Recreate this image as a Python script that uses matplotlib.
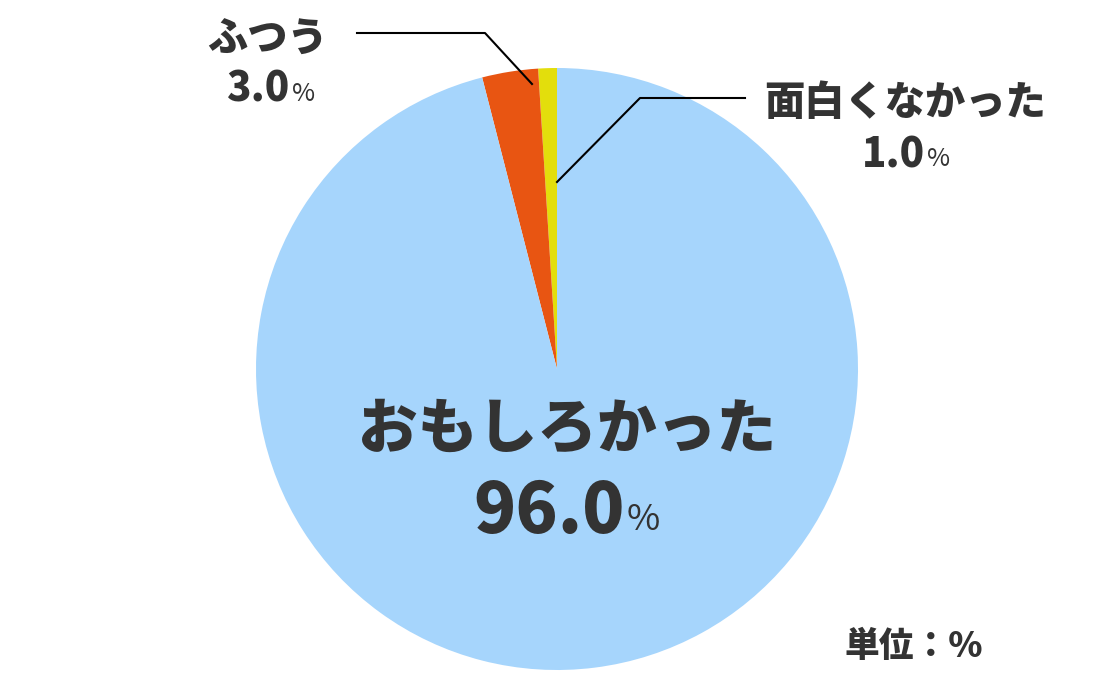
import matplotlib
matplotlib.use("Agg")
import matplotlib.pyplot as plt

plt.rcParams['font.family'] = ['Noto Sans CJK JP', 'DejaVu Sans']

labels = ["面白くなかった", "ふつう", "おもしろかった"]
values = [1.0, 3.0, 96.0]
colors = ["#E3DE0C", "#E85512", "#A6D5FC"]

W, H = 1116, 687
fig = plt.figure(figsize=(W/100, H/100), dpi=100)
ax = fig.add_axes([0, 0, 1, 1])

cx, cy, r = 557, 369, 301
ax.pie(values, colors=colors, startangle=-90, counterclock=False,
       center=(cx, cy), radius=r, frame=True, wedgeprops=dict(linewidth=0))
ax.set_xlim(0, W); ax.set_ylim(H, 0)
ax.set_aspect('equal')
ax.axis('off')

tc = "#333333"
def pct(x, y, num, size, psize):
    ax.text(x, y, num, ha='right', va='center', fontsize=size, fontweight='heavy', color=tc)
    ax.text(x + 2, y + size*0.15, "%", ha='left', va='center', fontsize=psize, color=tc)

ax.text(567, 430, labels[2], ha='center', va='center', fontsize=43, fontweight='heavy', color=tc)
pct(625, 512, f"{values[2]:.1f}", 50, 26)

ax.text(268, 40, labels[1], ha='center', va='center', fontsize=29, fontweight='heavy', color=tc)
pct(290, 90, f"{values[1]:.1f}", 29, 18)

ax.text(905, 103, labels[0], ha='center', va='center', fontsize=29, fontweight='heavy', color=tc)
pct(925, 155, f"{values[0]:.1f}", 29, 18)

ax.plot([357, 485, 532], [33, 33, 84], color='black', lw=1.5)
ax.plot([745, 640, 557], [98, 98, 182], color='black', lw=1.5)

ax.text(914, 646, "単位：%", ha='center', va='center', fontsize=25, fontweight='heavy', color=tc)

fig.savefig("out.png", dpi=100)
